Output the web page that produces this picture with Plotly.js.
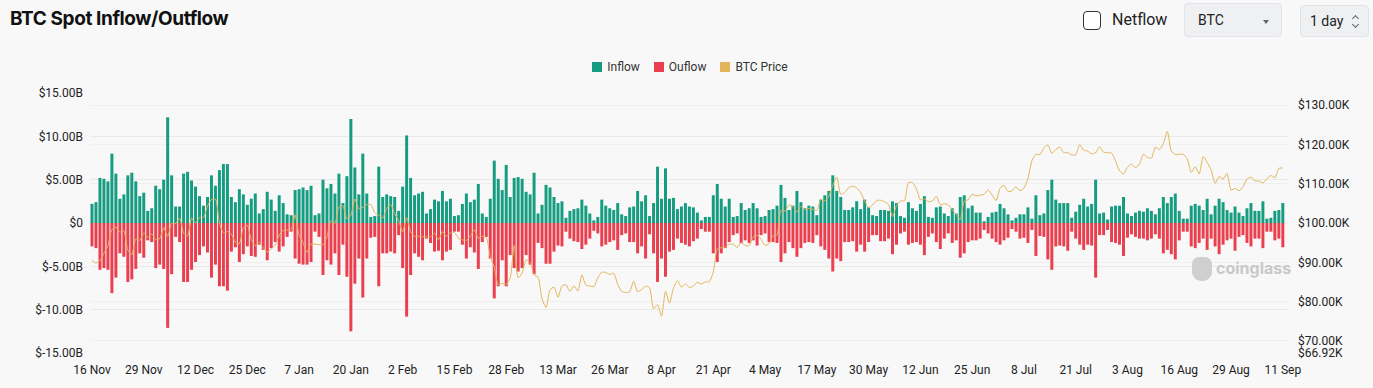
<!DOCTYPE html>
<html>
<head>
<meta charset="utf-8">
<script src="https://cdn.plot.ly/plotly-3.0.1.min.js"></script>
<style>
  html, body { margin:0; padding:0; background:#f8f8f8; width:1373px; height:388px; overflow:hidden; font-family: Roboto, "Noto Sans", sans-serif; }
  #chart { position:absolute; left:0; top:0; width:1373px; height:388px; }
  .title { position:absolute; left:10px; top:7px; font-family: Inter, Roboto, sans-serif; font-weight:700; font-size:19px; color:#111; letter-spacing:-0.4px; }
  .chk { position:absolute; left:1083px; top:11px; width:16px; height:17px; border:1.6px solid #333; border-radius:4px; background:#fff; }
  .netflow { position:absolute; left:1112px; top:10px; font-size:16px; color:#222; }
  .sel { position:absolute; left:1184px; top:3px; width:98px; height:34px; background:#eef0f2; border:1px solid #e0e3e7; border-radius:4px; box-sizing:border-box; }
  .sel .t { position:absolute; left:13px; top:8px; font-size:14px; color:#222; }
  .sel .c { position:absolute; left:78px; top:16px; width:0; height:0; border-left:3.5px solid transparent; border-right:3.5px solid transparent; border-top:4px solid #666; }
  .day { position:absolute; left:1300px; top:5px; width:69px; height:32px; background:#eef0f2; border:1px solid #e0e3e7; border-radius:4px; box-sizing:border-box; }
  .day .t { position:absolute; left:9px; top:7px; font-size:14px; color:#222; }
  .day .up, .day .dn { position:absolute; left:52px; width:4px; height:4px; border-left:1.2px solid #666; border-top:1.2px solid #666; }
  .day .up { top:10px; transform:rotate(45deg); }
  .day .dn { top:16px; transform:rotate(-135deg); }
  .legend { position:absolute; left:0; width:1380px; top:60px; display:flex; justify-content:center; gap:14px; font-size:12px; color:#333; }
  .legend .it { display:flex; align-items:center; gap:5px; }
  .legend .sq { width:10px; height:10px; display:inline-block; }
  .wm { position:absolute; left:1216px; top:258px; font-family: Inter, Roboto, sans-serif; font-weight:700; font-size:16px; color:#c9c9c9; letter-spacing:0px; }
  .wmlogo { position:absolute; left:1192px; top:257px; width:20px; height:24px; background:#cfcfcf; border-radius:7px 7px 9px 9px; }
</style>
</head>
<body>
<div id="chart"></div>
<div class="title">BTC Spot Inflow/Outflow</div>
<div class="chk"></div>
<div class="netflow">Netflow</div>
<div class="sel"><span class="t">BTC</span><span class="c"></span></div>
<div class="day"><span class="t">1 day</span><span class="up"></span><span class="dn"></span></div>
<div class="legend">
  <span class="it"><span class="sq" style="background:#169c80"></span>Inflow</span>
  <span class="it"><span class="sq" style="background:#ea3f4e"></span>Ouflow</span>
  <span class="it"><span class="sq" style="background:#e3b55a"></span>BTC Price</span>
</div>
<div class="wmlogo"></div>
<div class="wm">coinglass</div>
<script>
// ---- data (daily, 16 Nov 2024 – 11 Sep 2025), values in $B ----
const startDay = '2024-11-16';
const inflow = [
2.2,2.4,5.2,5.1,4.8,8.0,5.7,2.8,3.3,5.5,
5.8,4.8,3.1,3.5,1.4,1.7,4.3,3.9,5.0,12.2,
5.5,1.9,1.9,5.7,5.9,4.9,4.2,3.1,2.0,3.0,
5.5,4.3,6.1,6.8,6.8,3.0,2.4,3.9,3.3,2.1,
2.8,3.4,1.1,1.6,3.6,2.7,1.4,3.2,2.3,1.0,
0.9,3.8,3.9,4.1,3.8,4.3,0.9,1.1,5.0,4.0,
4.5,3.4,5.7,2.3,5.4,12.0,6.4,3.3,8.0,3.4,
0.7,0.8,6.5,3.0,3.3,3.1,3.0,1.4,4.2,10.1,
5.2,3.2,3.4,3.6,1.1,1.6,2.7,2.5,3.7,2.5,
2.8,0.8,0.9,2.2,3.4,2.4,2.7,4.5,1.1,0.7,
2.8,7.2,5.1,3.8,6.7,3.0,5.2,5.3,5.1,3.6,
3.3,5.8,1.1,2.1,4.4,4.1,3.0,2.3,2.5,0.6,
1.4,1.6,1.7,2.7,2.0,1.1,0.3,0.7,2.7,2.0,
1.7,1.5,2.3,1.0,0.8,1.8,1.9,3.7,2.5,3.2,
0.8,2.3,6.5,2.8,6.3,2.8,2.9,1.6,1.9,2.3,
1.9,1.8,1.2,0.3,0.7,0.7,3.2,4.5,2.8,1.9,
2.8,0.7,0.8,2.3,1.5,1.7,2.3,1.7,0.7,0.8,
1.5,1.6,2.0,4.4,2.9,1.5,2.0,3.7,2.4,1.7,
2.0,1.9,0.9,2.7,3.2,3.7,5.5,3.7,3.0,1.5,
1.5,1.8,2.5,1.6,2.7,1.8,0.9,0.8,1.5,1.5,
1.4,2.5,2.3,0.8,0.6,2.4,1.7,1.4,2.2,3.1,
0.7,0.6,1.8,1.9,1.1,0.8,1.7,1.1,3.0,3.2,
1.7,2.0,1.2,1.2,0.2,0.7,1.2,1.3,2.2,1.7,
1.0,0.3,0.6,1.0,1.0,1.8,0.5,3.2,0.9,1.1,
3.8,5.0,2.7,2.3,2.3,2.3,0.6,1.3,2.1,2.8,
1.9,2.2,5.0,1.1,1.2,0.4,1.9,2.0,2.0,3.0,
1.1,0.8,1.2,1.4,1.3,1.7,1.4,1.0,1.7,3.0,
2.3,3.0,3.4,1.4,0.5,0.5,2.0,2.2,2.0,1.5,
2.8,1.0,2.0,2.8,2.4,1.5,1.2,1.9,1.2,0.8,
1.7,2.3,1.4,1.4,2.5,0.5,0.6,1.4,1.5,2.3
];
const outflow = [
-2.7,-2.9,-5.4,-5.2,-5.4,-8.1,-6.3,-3.5,-3.9,-6.8,
-6.5,-5.3,-3.5,-4.0,-2.0,-2.2,-5.2,-4.8,-5.3,-12.1,
-5.9,-1.6,-2.2,-6.8,-6.8,-5.4,-4.5,-3.7,-2.7,-3.4,
-6.3,-4.8,-7.3,-7.3,-7.8,-3.3,-2.8,-4.5,-3.6,-2.7,
-3.8,-3.9,-2.5,-3.1,-4.3,-2.9,-2.2,-3.3,-2.7,-1.6,
-1.0,-4.1,-4.7,-4.8,-4.8,-4.5,-1.0,-1.6,-6.0,-4.3,
-4.8,-3.5,-6.0,-2.5,-6.2,-12.5,-7.0,-4.1,-8.6,-4.1,
-1.7,-1.6,-7.3,-3.5,-3.5,-3.3,-3.5,-1.4,-5.2,-10.8,
-6.0,-3.5,-3.9,-4.3,-1.8,-2.3,-3.3,-3.2,-4.3,-3.3,
-3.1,-1.0,-1.0,-2.5,-4.1,-2.8,-3.4,-5.3,-2.2,-1.6,
-4.1,-8.7,-7.3,-4.3,-7.3,-3.7,-5.2,-5.6,-5.2,-3.7,
-4.8,-5.9,-2.3,-2.9,-4.7,-4.7,-3.3,-2.6,-2.7,-1.0,
-1.8,-2.1,-2.2,-3.0,-2.5,-1.8,-0.9,-1.2,-2.7,-2.5,
-2.2,-2.0,-3.1,-1.4,-1.2,-2.2,-2.2,-3.5,-2.7,-4.1,
-1.3,-3.5,-6.8,-4.1,-6.2,-3.3,-3.1,-1.8,-2.3,-2.5,
-2.7,-2.1,-1.8,-0.7,-1.0,-1.0,-3.5,-4.5,-3.5,-2.9,
-2.2,-1.4,-1.2,-2.3,-2.0,-2.3,-2.0,-2.6,-1.4,-1.2,
-2.2,-2.2,-2.3,-4.5,-3.5,-2.2,-2.9,-3.9,-2.9,-2.3,
-2.2,-2.3,-1.4,-2.7,-3.1,-4.1,-5.6,-4.1,-4.4,-2.2,
-2.2,-2.1,-3.3,-2.5,-3.3,-2.2,-1.4,-1.4,-2.1,-2.1,
-1.8,-3.6,-2.5,-1.2,-1.0,-2.5,-2.3,-2.2,-2.5,-3.7,
-1.6,-1.2,-2.2,-3.0,-1.8,-1.2,-2.3,-2.0,-4.0,-3.5,
-2.2,-2.0,-2.0,-1.8,-0.8,-1.2,-1.8,-2.2,-2.5,-2.0,
-1.7,-0.7,-1.0,-1.8,-1.7,-2.3,-0.8,-3.8,-1.5,-1.6,
-4.2,-5.4,-2.7,-2.6,-2.7,-3.2,-1.0,-1.8,-2.5,-3.1,
-2.5,-2.6,-6.3,-1.4,-1.4,-0.8,-2.2,-2.3,-2.5,-3.8,
-1.7,-1.3,-1.6,-1.8,-1.8,-2.0,-1.8,-1.3,-1.8,-3.5,
-3.1,-3.6,-4.2,-2.0,-1.0,-1.0,-2.7,-2.9,-2.3,-1.8,
-3.1,-1.8,-2.7,-3.6,-2.5,-2.0,-1.8,-3.2,-1.6,-1.4,
-2.3,-2.7,-1.8,-1.8,-2.9,-1.0,-1.0,-2.0,-1.8,-2.8
];
// BTC price, $K, by month
const priceNov = [90.5,89.8,90.5,92.3,94.3,98.3,98.9,97.7,98.0,93.1,91.9,95.9,95.6,97.5,96.4];
const priceDec = [97.2,95.8,96.0,98.8,96.6,99.9,99.9,101.2,97.4,96.7,101.2,100.0,101.4,101.4,104.3,106.0,106.1,100.0,97.5,97.8,97.2,95.1,94.7,98.7,99.4,95.8,94.2,95.1,93.7,92.6,93.4];
const priceJan = [94.4,96.9,98.1,98.2,98.3,102.1,96.9,95.0,92.5,94.7,94.6,94.5,94.5,96.5,100.5,99.9,104.1,104.4,101.1,102.0,106.1,103.6,104.0,104.7,104.7,102.6,102.0,101.3,103.7,104.7,102.4];
const priceFeb = [100.6,97.7,101.4,97.8,96.6,96.6,96.5,96.5,96.5,97.4,95.7,97.8,96.6,97.5,97.6,96.1,95.7,95.6,96.6,98.3,96.1,96.6,96.3,91.5,88.7,84.3,84.7,84.4];
const priceMar = [86.0,94.3,86.1,87.2,90.6,89.9,86.8,86.2,80.7,78.5,82.9,83.7,81.1,84.0,84.3,82.6,84.0,82.7,86.8,84.2,84.0,83.8,86.0,87.5,87.4,86.9,87.2,84.4,82.6,82.3,82.5];
const priceApr = [85.2,82.5,83.1,83.9,83.5,78.2,79.2,76.3,82.6,79.6,83.4,85.3,83.7,84.5,83.6,84.0,84.9,84.5,85.0,85.1,87.5,93.4,93.7,93.9,94.6,94.6,93.8,95.0,94.3,94.2];
const priceMay = [96.5,96.9,95.9,94.3,94.8,96.8,97.0,103.2,103.0,104.6,104.2,102.8,104.2,103.5,103.7,103.5,103.2,106.0,105.6,106.8,109.6,111.7,107.3,107.8,109.0,109.4,108.9,107.8,105.6,103.9,104.6];
const priceJun = [105.7,105.8,105.4,104.7,101.6,104.4,105.6,105.7,110.3,110.3,108.7,105.9,106.1,105.4,105.6,106.8,104.6,104.9,104.6,103.3,102.2,100.9,105.5,105.9,107.3,106.9,107.1,107.3,108.4,107.1];
const priceJul = [105.7,108.8,109.6,108.0,108.2,109.2,108.2,108.9,111.3,115.9,117.5,117.4,119.1,119.8,117.7,118.7,119.3,117.9,117.9,117.3,117.4,119.9,118.5,118.3,117.6,117.9,119.4,118.0,117.9,117.8,115.8];
const priceAug = [113.3,112.5,114.2,115.0,114.1,115.0,117.5,116.7,116.5,119.3,118.7,120.2,123.3,118.3,117.4,117.5,117.5,116.3,112.9,114.3,112.5,116.9,115.4,113.5,110.1,111.8,111.2,112.6,108.4,108.8,108.2];
const priceSep = [109.2,111.2,111.7,110.7,110.7,110.2,111.2,112.1,111.5,113.9,114.0];

const leftTicks = [-15,-10,-5,0,5,10,15];
const leftTickText = ['$-15.00B','$-10.00B','$-5.00B','$0','$5.00B','$10.00B','$15.00B'];
const rightTicks = [66.92,70,80,90,100,110,120,130];
const rightTickText = ['$66.92K','$70.00K','$80.00K','$90.00K','$100.00K','$110.00K','$120.00K','$130.00K'];

// ---- build ----
const price = [].concat(priceNov,priceDec,priceJan,priceFeb,priceMar,priceApr,priceMay,priceJun,priceJul,priceAug,priceSep);
const DAY = 86400000;
const t0 = Date.parse(startDay + 'T00:00:00Z');
const dates = inflow.map((_, i) => new Date(t0 + i*DAY).toISOString().slice(0,10));

const traces = [
  { type:'bar', name:'Inflow', x:dates, y:inflow, marker:{color:'#169c80', line:{width:0}}, showlegend:false, hoverinfo:'x+y' },
  { type:'bar', name:'Ouflow', x:dates, y:outflow, marker:{color:'#ea3f4e', line:{width:0}}, showlegend:false, hoverinfo:'x+y' },
  { type:'scatter', mode:'lines', name:'BTC Price', x:dates, y:price, yaxis:'y2',
    line:{color:'#e3b55a', width:1, shape:'spline', smoothing:0.6}, showlegend:false }
];

const axFont = {family:'Roboto, "Noto Sans", sans-serif', size:12, color:'#222'};
const layout = {
  width:1373, height:388,
  margin:{l:90, r:85, t:93, b:35, pad:0},
  paper_bgcolor:'#f8f8f8', plot_bgcolor:'#f8f8f8',
  barmode:'relative', bargap:0.25,
  showlegend:false,
  xaxis:{
    type:'date',
    range:[new Date(t0 - 0.5*DAY).toISOString(), new Date(t0 + 300.3*DAY).toISOString()],
    tick0:startDay, dtick:13*DAY, tickformat:'%-d %b',
    showgrid:false, zeroline:false, showline:false, ticks:'',
    tickfont:axFont, ticklabelstandoff:8
  },
  yaxis:{
    range:[-15,15], tickvals:leftTicks, ticktext:leftTickText,
    gridcolor:'#e9e9e9', gridwidth:1, zeroline:false, showline:false, ticks:'',
    tickfont:axFont, ticklabelstandoff:6, fixedrange:true
  },
  yaxis2:{
    overlaying:'y', side:'right',
    range:[66.92,133.08], tickvals:rightTicks, ticktext:rightTickText,
    gridcolor:'#efefef', gridwidth:1, zeroline:false, showline:false, ticks:'',
    tickfont:axFont, ticklabelstandoff:9, fixedrange:true
  }
};

Plotly.newPlot('chart', traces, layout, {displayModeBar:false, staticPlot:true});
</script>
</body>
</html>
